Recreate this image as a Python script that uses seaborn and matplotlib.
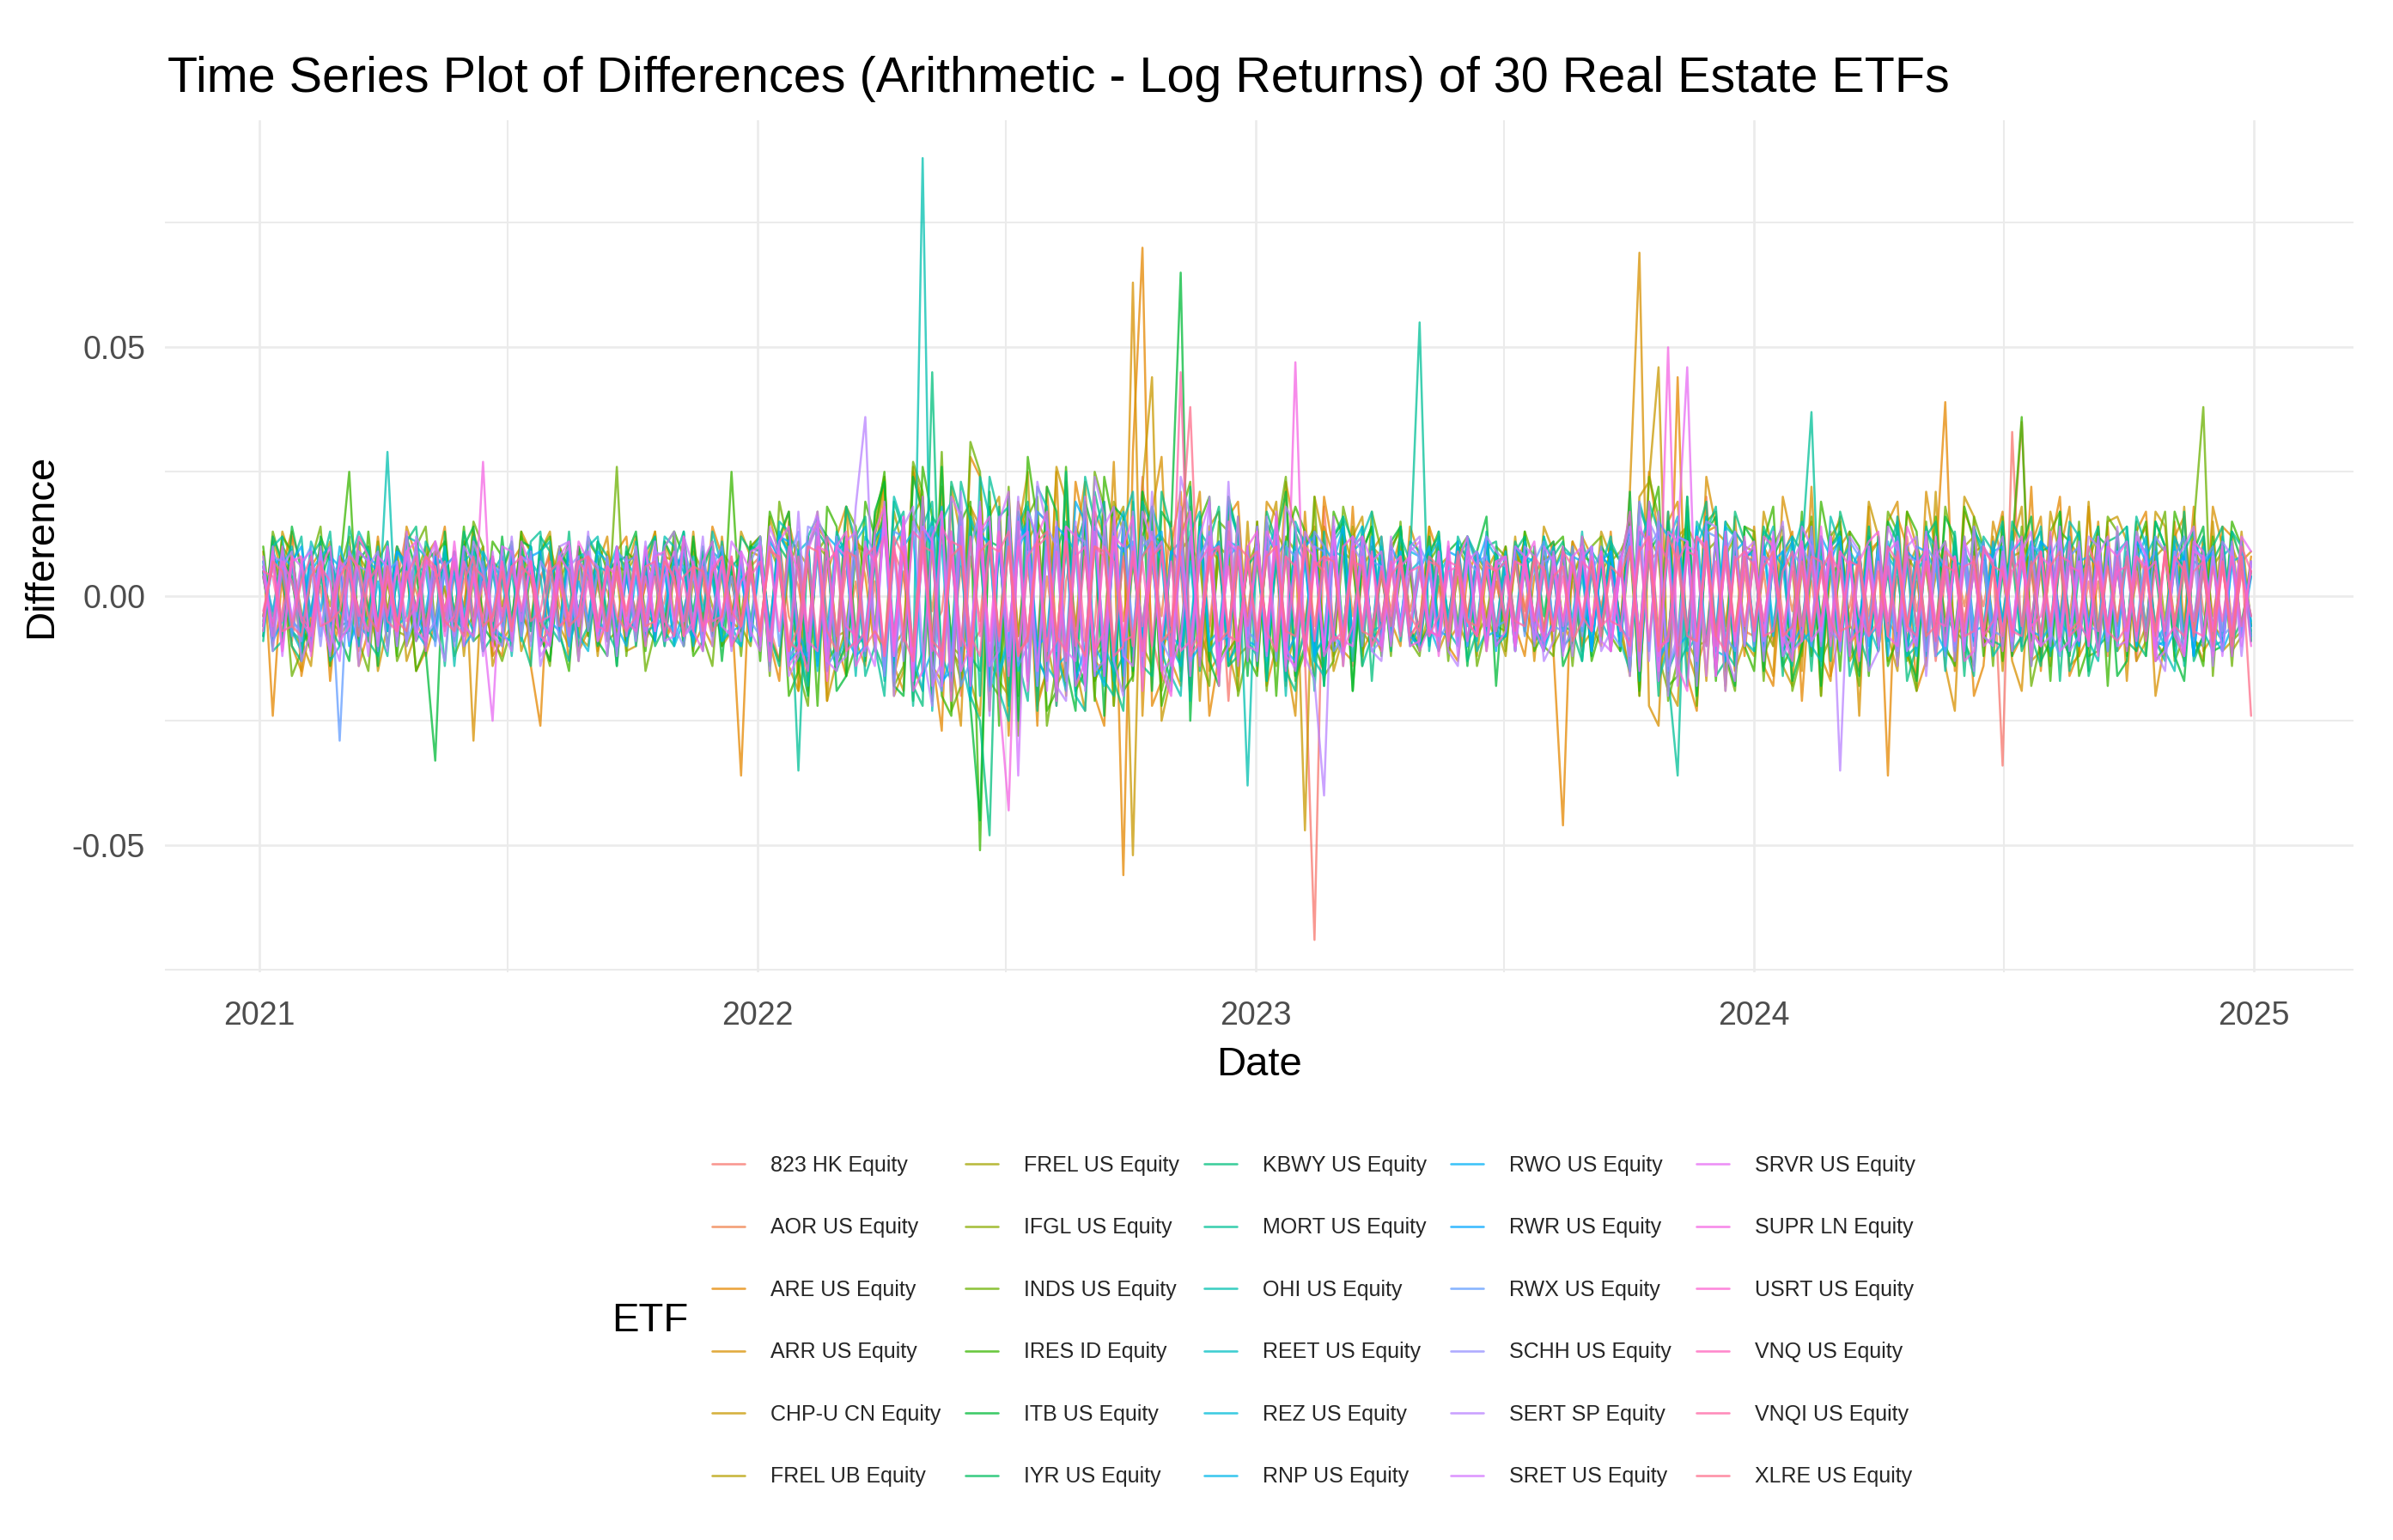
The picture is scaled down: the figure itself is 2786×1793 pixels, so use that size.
import numpy as np
import pandas as pd
import matplotlib
matplotlib.use("Agg")
import matplotlib.pyplot as plt
import seaborn as sns

# Differences (arithmetic - log return), in thousandths,
# one reading per week starting at START (one row per calendar year)
START = "2021-01-04"
STEP = "7D"

etf_names = [
    "823 HK Equity", "AOR US Equity", "ARE US Equity", "ARR US Equity", "CHP-U CN Equity",
    "FREL UB Equity", "FREL US Equity", "IFGL US Equity", "INDS US Equity", "IRES ID Equity",
    "ITB US Equity", "IYR US Equity", "KBWY US Equity", "MORT US Equity", "OHI US Equity",
    "REET US Equity", "REZ US Equity", "RNP US Equity", "RWO US Equity", "RWR US Equity",
    "RWX US Equity", "SCHH US Equity", "SERT SP Equity", "SRET US Equity", "SRVR US Equity",
    "SUPR LN Equity", "USRT US Equity", "VNQ US Equity", "VNQI US Equity", "XLRE US Equity",
]

hk823 = [5, -9, -3, 12, 7, -6, 2, -14, 8, 4, -11, -2, 9, -7, 3, 13, -5, -10, 6, 1, -8, 11, -4, 7, -12, 3, 6, -2, -9, 4, 8, -7, -3, 10, -5, 2, 7, -11, 4, -3, 8, -6, -1, 11, -9, 5, 3, -8, 6, -4, 9, -7,
         10, -6, -13, 7, 2, -9, 14, -4, -8, 5, 11, -12, 3, -16, 9, 4, -11, 18, -7, -3, 13, -20, 8, -5, 15, -10, 21, -14, 6, -9, 17, -22, 3, 12, -15, -6, 19, -11, 8, -13, 24, -8, -17, 10, 5, -19, 14, -6, 11, -21, 9, -4,
         13, -10, 6, -16, 9, -12, -69, 18, -7, 11, -14, 4, -9, 7, -3, 10, -8, -5, 9, 2, -11, 6, -4, 8, -7, 3, -6, 9, -2, -8, 5, 11, -7, 3, -10, 6, -3, 8, -5, 12, -16, 7, 9, -18, 14, -6, -11, 20, -9, 13, -15, 5,
         -9, 6, 11, -4, -12, 8, 3, -10, 13, -6, -2, 9, -7, 10, -5, -8, 12, -3, 7, -13, 4, 9, -11, 6, -2, 8, -34, 33, -10, 5, -12, 9, -4, 14, -8, 3, -11, 7, -6, 9, -13, 4, 8, -10, 6, -7, 12, -3, -9, 11, -5, 7, -8]
aor = [-4, 7, 2, -9, 5, -3, 8, -6, -1, 10, -5, 4, -7, 3, -8, 6, 1, -5, 9, -7, 4, -2, 8, -10, 5, -3, 7, -4, -6, 3, 9, -2, -7, 5, -8, 4, 1, -6, 8, -5, 2, 7, -9, 4, -3, 6, -1, -8, 5, 3, -7, 6,
       8, -6, 11, -4, -9, 7, -12, 5, 10, -8, 3, -11, 9, 13, -9, 5, -14, 10, -3, 16, -12, 6, -10, -7, 12, -15, 17, -8, 11, -16, 4, -10, 14, -6, 9, -13, -15, 11, -5, 10, -13, 6, -4, 15, -9, 11, -12, -7, 8, -10, 7, -5,
       11, -8, 14, -17, 6, -5, 9, -12, -7, 13, -4, 8, -6, 4, -7, 9, -3, 6, -9, 2, -5, 10, -4, 7, -8, 3, -6, 8, -3, 9, -7, 4, -9, 6, -11, 5, -2, 7, -6, 12, -9, 15, -7, 17, -12, 10, -14, -8, 11, -6, 9, -7,
       -8, 5, -10, 7, -3, 9, -12, 6, -7, 11, -5, 8, -4, 10, -7, 4, -9, 3, -8, 11, -6, 7, -2, 9, -10, 6, -5, 8, 35, -9, 5, -11, 7, -4, 10, -8, 3, -12, 6, -7, 3, 9, -6, 8, -10, 5, -7, 11, -4, 7, -9, 5, -6]
are = [9, -24, 6, 13, -16, -5, 11, -17, 3, 9, -14, -7, 12, -4, 10, 6, -15, -11, 5, 14, -8, -2, 13, 6, -9, -12, 7, 10, -14, -26, 10, 3, -13, 5, 8, -11, -4, 9, 12, -8, 3, 13, -9, -5, 11, -10, -6, 14, 8, -2, -36, 10,
       12, -9, -17, 15, 6, -19, 14, 11, -9, -16, 13, 4, -11, 22, -16, -8, 25, 18, -12, -27, 20, -15, 28, 24, -14, -10, -21, 19, 12, -26, 22, -9, -17, 23, 13, -20, -26, 16, -56, 29, 70, -22, -17, 10, 21, -18, 14, -24, -12, 16, 19, -9,
       15, -18, -10, 23, 13, -8, -16, 20, 9, -14, 18, -11, -7, -11, 5, 12, -9, -6, 14, 8, -10, -13, 4, 9, -11, 5, 10, -6, -12, 4, 8, -11, -46, 11, 7, -6, -10, 13, -9, 17, -20, 25, 12, -19, 44, -16, -23, 13, 14, -18, 10, -12,
       10, -14, -18, 8, 13, -21, 6, 11, -16, -7, 12, -15, 9, 11, -36, 16, 10, -19, -13, 7, 39, -15, 12, -20, -14, 9, 17, -12, -8, 22, -15, 10, 20, -16, -11, 18, -7, 14, -11, -8, 13, 17, -9, -12, 15, -6, 18, -11, -8, 14, 12, -7, 8]
arr = [-7, 12, 4, -10, -15, 6, 9, -13, -5, 8, 11, -3, -10, 9, -6, 14, 8, -12, -5, 10, -4, 11, -29, 7, -12, -9, -6, 13, 9, -8, -13, 10, 4, -11, -7, 6, 12, -9, 5, 12, -9, -4, 11, 5, -8, 13, -6, -10, 12, -5, -7, 9,
       8, -13, 11, 17, -19, -10, 15, -21, 12, 18, -9, -14, 7, 24, -14, -19, 25, 16, -21, 22, -12, -26, 18, 14, -23, 17, -28, 13, 18, -22, -15, 25, -20, 11, 23, -17, -12, 27, -19, 63, -24, 17, 28, -13, -18, 10, 21, -15, -12, 19, -16, 9,
       -13, 19, 16, -12, -24, 17, -10, 14, 8, -11, -13, 6, 9, 12, -5, -10, 14, 8, -7, 11, -9, -6, 12, 7, -4, -9, -8, 6, 11, -13, 7, 9, -5, -10, 12, 8, -6, 11, -7, 21, 69, -22, -26, 15, 19, -11, -17, 24, 14, -19, 16, -10,
       14, -9, -16, 20, 11, -15, 22, -12, -17, 10, 13, -24, 18, -11, 15, 19, -12, -16, 21, 9, -14, -23, 17, 12, -10, 15, 7, -13, -19, 10, 16, -14, 9, 18, -12, -8, 15, -11, 13, -17, 10, 14, -20, -9, 12, 16, -8, -13, 18, 10, -11, 7, 9]
chpu = [5, -10, 13, 7, -9, -14, 6, 11, -8, -5, 12, 9, -15, -6, 10, -13, -7, 8, 11, -4, 9, -12, 6, 10, -14, -7, 8, -11, -5, 9, 13, -6, -10, 8, 7, -12, 9, 4, -11, -10, 7, 13, -8, -5, 12, -9, 6, 11, -10, -7, 13, 8,
        -11, 16, 8, -14, -19, 10, 15, -21, -13, 18, 9, -12, 14, 23, -20, -15, 26, 19, -14, -17, 22, 12, -17, -24, 16, 20, -18, 13, 25, -21, -15, 26, 19, -14, -23, 17, 12, -22, 16, -52, 22, 44, -25, -16, 12, 18, -21, 14, 17, -11, -19, 15,
        -15, 11, 19, -18, 13, -47, 20, 11, -15, -8, 12, 16, -9, -6, 10, 13, -7, -9, 14, -11, -6, 10, 8, -12, 5, 9, -8, 12, -7, -10, 14, 9, -6, 11, -10, -7, 13, 8, -5, -16, 20, 23, 46, -18, -22, 14, 10, -17, 13, 11, -15, -9,
        -12, 17, 9, -14, -18, 11, 15, -20, 10, 16, -13, -9, 19, 12, -8, -15, 17, 10, -14, 21, -11, -13, 20, 16, -9, 12, -15, 10, 18, -13, -11, 17, 8, -14, -12, 19, -10, 15, 16, 11, -13, -9, 17, 14, -10, 18, -12, -8, 15, -11, -9, 13, -6]
frel_ub = [4, -7, 9, 3, -6, -10, 5, -2, 8, 6, -3, -9, 7, -4, 10, 5, -2, -8, 6, -3, 9, -7, -4, 5, 8, -2, 6, -4, -7, 9, -5, 3, 8, -8, -10, 5, -3, 8, 6, 9, -5, -4, 8, 7, -10, 3, -6, 8, 4, -10, -7, 5,
           -7, 10, 5, -12, 9, 6, -13, 11, -8, -7, 10, 9, -6, 15, -10, -7, 16, 12, -9, 17, -11, -14, 18, 10, -13, -8, 16, -8, 11, 15, -9, -19, 13, -7, 17, -12, -10, 14, 18, -13, 16, 8, -11, -6, 9, 12, -14, 10, 7, -11, -8, 9,
           -10, 8, 12, -15, -7, 10, 14, -9, -11, 13, 6, -8, 10, 8, -9, 4, 7, -11, -3, 6, 8, -5, -10, 7, 4, -6, -12, 9, 5, -7, 8, -10, -6, 4, 9, -7, 5, 8, -7, -15, 13, 11, -16, -8, 12, 14, -10, -9, 11, -7, 13, 10,
           -7, 10, 6, -8, -11, 5, 9, -12, 4, 7, -10, -6, 8, 11, -13, -9, 5, 10, -7, 4, 11, -8, -6, 9, 10, -5, -4, 8, 9, -6, -10, 7, -5, 11, 8, -4, -7, 10, -6, 9, -11, -6, 8, 10, -5, 7, -9, 12, -6, -8, 10, 5, -4]
frel_us = [-5, 8, 3, -7, -10, 4, 6, 9, -2, -6, 8, 5, -11, 3, -7, -8, 4, 10, -6, 2, -9, 5, 7, -3, -8, 4, -6, 9, 4, -7, 2, 10, -8, -5, 7, 3, -9, 6, 5, 8, -3, -6, 10, -4, -7, 9, 5, -2, -8, 7, -4, 10,
           9, -7, 12, 10, -6, -14, 10, 8, -13, -6, 11, 9, -7, -11, 17, 9, -14, -19, 11, 15, -10, -12, 16, 8, -13, -17, -20, 13, -9, 15, 11, -18, -14, 10, 16, -12, -7, 19, 13, 8, -10, -14, 12, 9, -15, 11, -7, -13, 10, 8, -12, -10,
           7, -11, 13, 9, -16, -6, 9, 10, -12, -8, 14, -7, -10, 5, -8, 7, 4, -9, -6, 11, -7, 4, -10, 8, 5, -6, -7, 10, 5, -8, -9, 6, -11, 4, 8, 7, -6, 9, -10, 10, -17, 12, 8, -14, 15, -9, -13, 13, -11, 8, 12, -7,
           8, -6, -10, 9, 5, -12, 7, -4, 9, 11, -6, -8, 12, -7, 10, -14, 8, 5, -11, 9, -4, -7, 10, 12, -6, -8, 5, -10, 9, -6, 11, 8, -7, -12, 10, -5, 8, -7, 9, -11, 6, -8, 10, -5, 12, 7, -9, -10, 6, 9, -11, -8, 5]
ifgl = [6, -4, 10, 7, -3, -11, 8, -5, -7, 9, 4, -6, 11, -3, 8, -10, -5, 7, 9, -4, 6, -8, 3, -11, 7, 5, 10, -6, 4, -9, -7, 5, 11, -8, 6, 3, -9, -7, 5, -8, 7, 4, -10, 6, 8, -11, 5, -7, 9, 3, -6, -10,
        10, -8, -13, 6, 11, -15, 9, 12, -14, -10, 8, -11, 7, 18, -13, -8, 16, 20, -11, 15, -9, -17, 14, 12, -19, 10, -13, 16, 10, -19, 15, -11, -18, 14, 9, -17, -12, 13, -16, 7, -9, 12, 11, -8, -14, 10, 7, -13, 9, -11, -8, 6,
        11, -7, -14, 12, 9, -10, 13, -8, -11, 9, 7, -12, 10, 6, -8, 10, 5, -9, -7, 4, -7, 10, 6, -8, -4, 7, -11, 8, 6, -9, -7, 5, 10, -8, 6, -11, -4, 7, 9, 13, -8, 16, -12, -19, 10, 14, -16, 9, 11, -15, -7, 10,
        9, -12, -7, 8, 11, -6, 10, -13, -8, 5, 12, -9, 7, -11, 9, 6, -13, 10, 5, -8, 11, -7, -9, 14, 6, -10, 7, -9, 11, 6, -8, -12, 10, -5, -9, 7, 13, -8, 6, -10, 8, -6, 11, 9, -7, -13, 10, 5, -8, 11, -9, -7, 7]
inds = [-8, 13, 6, -16, -11, 7, 14, -10, 5, 12, -9, -15, 7, 11, -13, -8, 10, 14, -6, 9, -12, -7, 15, 10, -8, -13, -6, 12, 9, -7, -14, 10, 5, -13, 11, 8, -7, 26, -12, 9, -15, -7, 10, 13, -6, 11, -8, -14, 9, 6, -12, 10,
        12, -16, 19, 10, -15, -22, 17, -13, -10, 18, 14, -11, 16, 24, -18, -14, 27, 21, -15, 29, -23, -18, 31, 25, -17, -20, 22, -28, 16, 20, -26, -14, 23, -19, -15, 25, 18, -22, 13, -17, 21, 14, -19, -11, 16, 23, -12, -18, 15, 13, -20, -11,
        15, -19, 12, 24, -17, -11, 20, -16, -13, 18, 10, -14, 17, 9, -12, 15, -9, -12, 7, 10, -13, 8, 11, -14, -6, 10, 8, -11, 13, 7, -10, -12, 9, -14, 7, 10, 12, -8, -11, 17, -20, 24, 16, -21, -13, 18, -22, 15, 17, -12, -19, 14,
        13, -17, 10, 14, -19, -11, 16, -20, 12, 15, -9, -18, 14, -10, 17, 13, -11, -19, 15, -12, 18, 9, -13, 16, 10, -14, 16, -11, 14, -18, -9, 13, 17, -10, 15, -12, -11, 16, 13, -9, 15, -12, 10, 17, -13, -8, 14, 38, -16, 10, -14, 11, -8]
ires = [10, -7, 12, 9, -6, -11, 8, -14, 5, 25, -10, 13, -6, 9, -12, 7, -15, -10, 8, 11, -5, 14, -9, -7, 11, 8, -10, 13, -6, 9, 12, -7, -15, 10, -8, 11, 5, -14, 9, 7, -11, 10, -6, 13, 8, -12, -9, 5, -10, 25, -7, 11,
        -13, 17, 11, -20, -15, 12, -22, 18, 14, -16, -10, 19, 12, 25, -17, 13, -21, 26, 16, -20, -24, 15, 19, -51, 21, -26, 16, -20, 28, 15, -23, -19, 26, -13, 17, -21, 24, 14, -19, -16, 12, 18, -22, -14, 17, -11, 15, 20, -13, -9, 16, -12,
        -16, 14, -20, 11, 18, 13, -10, -15, 17, 12, -19, 9, 14, -12, 9, 14, -7, -11, 8, 13, -10, 9, 12, -7, 11, -8, 10, -9, 13, -11, -7, 10, 12, -8, 9, -13, -6, 10, 7, 16, -19, 14, 22, -18, -16, 20, -11, 13, -17, 15, 12, -10,
        -15, 11, 18, -14, -10, 17, -12, 19, 9, -15, 13, 10, -16, 12, -14, -8, 17, 13, -11, 16, -10, -14, 18, 11, -12, 9, -13, 10, 36, -14, 8, -17, 13, 11, -16, -10, 14, -18, 11, -12, 9, 15, -13, -10, 17, 11, -8, -14, 12, -9, 15, 10, -9]
itb = [-6, 11, -9, 14, 5, -10, 12, 7, -8, -13, 7, 10, -14, 6, -9, 12, 5, -11, -33, 13, -7, 10, 14, -6, -9, 12, -5, 11, 10, -8, -13, 6, -7, 10, 4, -9, -12, 7, 8, 13, -6, -9, 11, 7, -10, 12, -5, 8, -13, 6, -7, 10,
       9, -14, 12, 17, -10, -20, 15, 12, -19, -16, 11, -13, 17, 23, -18, -20, 24, 17, -21, 26, -19, 15, -22, -45, 18, -14, 20, -25, 16, -13, 22, 17, -14, -23, 19, 12, -24, 18, 16, -15, 21, -19, 17, 14, 65, -25, 16, -13, -18, 20, 12, -16,
       14, -17, 11, 21, -16, -10, 13, -18, 12, 15, -19, 9, 14, -8, 11, 14, -7, -10, 12, -6, 9, 11, -14, 9, 16, -18, 7, -10, 12, -6, 9, 11, -14, -9, 8, -12, 10, 7, -11, 21, -15, 19, -12, 15, -9, 17, -20, 13, 16, -11, -18, 14,
       11, -15, 8, 12, -17, -10, 14, -18, 10, 13, -8, -16, 12, -9, 15, 11, -10, -17, 13, -8, 16, 12, -9, -14, 11, -10, 14, -12, 10, 16, -13, -9, 17, -11, 8, -15, 12, 10, -16, -13, 11, -8, 15, 10, -12, -17, 9, 14, -11, -10, 13, 7, -6]
iyr = [5, -8, 7, 4, -10, -6, 3, 9, -6, -5, 8, -3, 7, -10, 4, 7, -9, -5, 6, 8, -3, -6, 10, 4, -7, -9, 8, -5, 10, -7, -4, 9, 6, -3, 8, -10, 5, 7, -9, -4, 7, -10, -6, 8, 5, -3, 9, -7, -4, 6, 8, -5,
       8, -11, 10, 7, -13, -9, 12, -15, 9, 11, -7, -10, 11, 16, -10, 14, -18, -11, 16, 13, -9, 17, -12, -15, 11, 10, -14, 17, 11, -13, -16, 9, 15, -12, -18, 14, 10, -16, -12, 8, -6, 11, 9, -13, -7, 10, -12, 8, 10, -14, -8, 6,
       9, -12, 7, -10, 13, 8, -11, -9, 14, -7, 10, 12, -8, 6, -9, 5, 7, -10, -6, 8, -4, 7, -10, 6, -8, 9, -5, 8, -7, 10, -4, 9, -6, -7, 11, 5, -8, 10, -6, 11, -14, 9, 12, -15, -10, 13, -8, 16, -11, 9, -13, 7,
       10, -7, 8, -11, -6, 9, 12, -5, 7, -10, 9, -6, 11, -8, 5, -12, 10, -7, 8, -9, 6, -11, 9, 5, -8, -10, 4, 8, -11, -6, 9, 10, -7, -12, 5, 7, -10, -8, 6, -9, -11, 7, 5, -10, 8, 6, -12, -8, 7, 11, -9, -5, 4]
kbwy = [-9, 12, 7, -10, -13, 8, 11, -6, -10, 14, 5, -9, -12, 7, -8, 11, 14, -6, -9, 10, -7, 13, 6, -11, -8, 5, 11, -8, -14, 12, 9, -7, 13, -10, -6, 11, 8, -14, 10, -6, 9, 12, -7, -10, 13, -8, 5, 11, -9, -7, 12, 9,
        11, -8, -14, 12, 9, -17, 13, 10, -15, -9, 12, 16, -10, -15, 19, 13, -18, -22, 45, -19, 23, 16, -20, -25, -48, 18, -22, 14, 19, -23, 16, -20, 25, -15, -18, 21, 12, -17, -23, 19, -14, -16, 21, 13, -17, 22, -15, 11, 18, -14, -12, 10,
        -14, 17, 11, -15, -19, 10, 13, -18, 12, 16, -9, 14, -17, 8, -11, 14, -7, -10, 9, 12, -6, 9, -13, -7, 10, 11, -7, 9, 12, -6, -10, 8, 11, -7, -13, 9, 6, -11, 8, -15, 18, 12, -20, 17, -14, -10, 12, 19, -16, -13, 17, 11,
        -11, 14, 8, -16, 12, 9, -15, 11, -13, 17, 10, -8, -14, 12, -9, 13, -17, -10, 12, 15, -8, 11, -16, 13, 10, -9, -10, 15, 11, -8, -14, 12, -17, 9, 13, -16, -8, 11, 12, 14, -9, -12, 15, 10, -11, 17, -13, -8, 10, 14, -12, 9, -7]
mort = [7, -11, -9, 6, 12, -10, 5, 13, -8, -7, 11, 9, -6, -12, 10, 5, -8, 11, 7, -14, 9, -6, 12, 8, -5, -10, 9, -7, 11, 13, -6, -9, 10, -5, 12, 8, -7, -11, 8, -10, 6, 12, -9, 7, 13, -5, 10, -8, 11, -6, 7, -9,
        10, -13, 12, 9, -35, 12, 16, -9, -14, 18, 11, -16, -10, -20, 13, 17, -22, 14, 19, -12, -17, 23, 15, -20, 24, 16, 18, -13, -21, 17, 15, -22, 12, -19, 24, 15, -17, -20, 14, -12, 19, 14, -11, -17, 15, -21, 13, 10, -16, 18, 12, -9,
        -12, 15, 10, -17, 14, 11, -19, 13, -9, 16, 11, -14, -8, 10, -8, 12, 7, 55, -11, 8, -10, 12, 7, -9, 13, -10, -8, 11, 6, -9, 12, -7, 10, 8, -13, 6, -9, 11, 7, 14, -17, 19, 13, -16, -36, 20, -15, 13, 18, -11, -14, 10,
        -9, 13, 11, -10, -14, 9, 37, -14, 10, 12, -16, -8, 14, -11, 9, 15, -12, -10, 14, 7, -11, 13, -9, -16, 12, 9, 15, -11, -8, 10, 13, -12, 10, -15, -7, 9, 14, -11, 12, -8, 16, 10, -9, -13, 11, -14, 8, 12, -10, -9, 13, 10, -8]
ohi = [-8, 10, 12, -7, -9, 11, 6, -13, -10, 6, 13, 9, -7, 29, -10, 12, 11, -8, -6, 10, -14, 7, 9, -11, 5, 8, -12, 10, -7, 9, 11, -8, -13, 6, 10, 12, -5, 9, -8, 11, -7, -6, 12, 10, -9, 7, -11, 13, 6, -8, -10, 9,
       12, -9, 15, 13, -10, -18, 14, -11, 13, 8, -16, 12, 9, -17, 20, 14, -17, 88, -23, 15, 19, -12, -21, 24, 16, -19, -25, 13, -17, 22, 18, -16, 12, -20, -23, 14, 19, -17, 15, 21, -14, 18, 11, -16, -20, 13, 17, -10, -15, 19, 12, -38,
       14, -17, 12, -20, 15, 10, -13, -16, 11, 14, -9, 12, 17, -10, 9, -6, 11, 9, -8, 13, -7, -10, 12, 8, -10, 7, 8, -11, 7, -9, 12, 6, -10, -8, 13, -10, 6, 12, -9, -15, 19, 12, -17, -10, 13, -18, 15, 11, -16, 14, 12, -9,
       -11, 9, 14, -12, 8, 15, -10, -13, 16, 10, -12, 8, -14, 11, -9, 16, -11, -7, 13, 10, -15, 9, -11, 14, 8, -12, -9, 13, -10, 7, 14, -11, -8, 15, 12, -9, -13, 10, -11, 14, -10, 8, 12, -11, -15, 9, 13, -7, -11, 12, -8, 10, -9]
reet = [4, -7, 6, 10, -8, -3, 9, -6, 5, 8, -7, -4, 10, -7, 3, -9, 6, 5, -8, 10, -4, -7, 9, 3, -6, -8, 5, -9, 7, 4, -10, 6, -3, 8, 9, -5, -7, 10, 4, -6, 8, 5, -10, 7, -4, -9, 6, 3, -8, 7, 5, -9,
        9, -6, 11, -13, -8, 10, 14, -7, 12, 9, -10, -8, 7, -16, 10, 14, -17, 11, 15, -18, 9, -13, 16, 10, -19, -12, 11, -15, 18, 10, -14, -17, 12, 9, -16, 13, -10, -15, 13, -10, 8, 12, -14, 9, 11, -7, 13, -11, -8, 10, 9, -7,
        10, -13, 8, 11, -14, -7, 10, -12, 9, 8, -13, 10, -7, -6, 8, -9, 5, 7, -10, 4, 8, -6, 9, -11, -7, 5, 7, -10, 6, 8, -11, -5, 9, -7, 4, -10, 8, 6, -10, 13, -15, 10, -12, 9, 14, -11, -8, 16, -10, 12, -13, 8,
        7, -10, 9, 6, -11, -8, 5, 12, -8, 7, 10, -9, -6, -11, 8, 5, -12, 7, 9, -10, 6, -8, 11, -6, 7, -9, 10, -6, -8, 11, 7, -9, 12, -5, -10, 8, 6, -11, 9, -7, 11, 9, -6, -10, 8, -12, 7, 6, -9, 8, 10, -7, 5]
rez = [-6, 9, 4, -7, -11, 5, 8, 10, -3, -6, 9, 7, -5, 11, -6, -4, 10, 8, -7, 5, -9, 6, 4, -10, 7, 3, -8, 6, 10, -5, -7, 9, 4, -8, -11, 6, 5, -10, 7, 4, -9, 7, 6, -10, -5, 8, -3, 9, 7, -6, -10, 5,
       -10, 12, 7, -14, 9, 11, -15, 10, -13, -8, 11, 14, -8, 17, -8, 15, -12, -19, 14, 10, -17, 13, -20, 12, 11, -16, -9, 14, 12, -18, 15, -11, -19, 13, 10, -16, -14, 12, 17, 8, -11, 13, 9, -10, -14, 7, -12, 11, 8, -13, -10, 9,
       -11, 9, 14, -10, 8, 12, -13, 9, -7, -11, 10, 14, -9, 12, -7, 9, -10, -6, 8, 11, -5, 7, -9, -6, 11, 8, -6, 10, 8, -7, -11, 5, 9, 8, -7, 10, -5, -9, 8, -13, 10, 16, -12, -9, 14, -7, 10, 15, -11, -12, 13, 10,
       -8, 11, -6, 9, 12, -7, -10, 8, 5, -11, 9, 6, -13, 10, -7, 9, -11, 5, 8, -12, -10, 7, 6, -10, 9, 8, -5, 10, -8, 6, 11, -9, 7, 12, -6, -8, 10, -7, 9, 11, -8, 6, -10, -9, 12, 7, -5, 10, -8, -11, 7, 8, -5]
rnp = [5, -3, 8, 6, -4, -9, 7, -5, 10, 4, -6, -8, 3, -7, 9, 5, -7, -10, 4, 6, 8, -3, -7, 9, 5, -6, 8, -4, 6, -9, 5, 7, -10, -3, 8, -6, 4, 10, -7, -5, 9, -7, -3, 8, 6, -10, 5, 4, -9, -6, 7, -8,
       7, -10, 13, 8, -11, -12, 9, -15, 11, 8, -10, -7, 12, 14, -17, 10, 13, -16, -11, 18, -14, 9, -19, 13, 10, -15, -8, 11, 15, -17, 10, -14, -12, 9, 16, -13, -18, 11, -14, 10, -9, 12, 7, -13, 8, -10, 14, -9, -7, 11, 10, -9,
       8, -11, 12, -9, 10, 7, -12, -8, 13, -10, 9, 11, -7, -10, 7, -5, 9, 8, -6, -11, 7, -9, 12, 6, -8, -7, 9, -6, 11, -8, 5, 10, -7, -4, 9, -11, 8, 6, -10, 12, -10, 14, -13, 11, 16, -8, -9, 13, -7, 15, -11, 8,
       9, -7, 11, -10, -6, 8, 12, -7, 10, -11, 5, 9, -8, -6, 11, -10, 7, -12, 9, 5, 8, -11, 10, -7, -6, 9, 10, -8, 5, 11, -9, -6, 12, -10, 7, 8, -11, -5, 9, -10, 7, 12, -9, -6, 10, -8, 11, 7, -6, -9, 10, -8, 7]
rwo = [-4, 6, 8, -5, -7, 9, -3, 8, 6, -4, -10, 7, 5, 8, -4, 9, -7, -3, 8, 6, -5, 10, -6, 4, -7, -8, -9, 5, 6, -10, 4, 7, -8, 3, -5, 9, 7, -6, -10, 4, -8, 7, 5, -9, -3, 6, -10, 8, 4, -7, -6, 5,
       -9, 11, 8, -13, -11, 9, -14, 12, 10, -8, -12, 10, 7, 15, -13, 11, -16, 14, 10, -18, -12, 15, -11, 17, -14, 10, -13, 16, 9, -12, -17, 14, -11, 19, 15, -10, -14, 13, -16, 10, -9, 11, 13, -8, -10, 12, -7, 9, -11, 8, 10, -9,
       -10, 12, 9, -11, -13, 8, -12, 10, 7, 14, -9, 11, -8, 7, -6, 9, -8, 5, 10, -7, -8, 11, -6, 9, 5, -8, -8, 10, 6, -7, -9, 5, -11, 8, 7, 10, -4, 9, -6, -9, 13, -11, 15, 12, -10, -8, 14, -10, 12, -13, 9, 11,
       -7, 10, -8, 6, 11, -9, -7, 12, 8, -10, 6, 7, -10, 9, -12, 8, -6, 10, 9, -7, -11, 8, -10, 6, -8, 11, -6, 9, 11, -7, -8, 10, -5, 9, -10, 8, -7, 11, -9, 8, -10, 6, 9, -11, -7, 9, -12, 7, 9, -11, -6, 8, -6]
rwr = [6, -9, -5, 7, 10, -4, 8, -6, 7, -10, -4, 8, 6, -5, 9, 7, -3, -9, 8, -6, 5, -10, -7, 4, 8, -5, 10, -6, 8, 9, -5, -7, 9, -4, 6, -8, 7, -10, 4, -7, 5, -9, 6, 4, 10, -8, 7, -5, 9, -6, 4, -8,
       10, -8, 12, 11, -7, -13, 11, -9, 10, 7, -12, -10, 8, 15, -12, 10, -16, 13, 11, -17, -15, 12, -10, 14, -18, 11, -13, 9, 15, -10, -8, 14, 12, -17, -10, 13, -16, 11, 9, 11, -10, 8, -12, 9, 7, -13, -10, 8, 11, -10, 9, -7,
       11, -9, 13, -12, -8, 10, 12, -11, 9, -8, 10, -7, 12, -8, 10, 6, -8, -10, 5, -7, 9, 8, -10, 6, 12, -11, 6, -9, 8, 7, -10, -5, 9, -8, 6, -11, 7, 9, -8, 14, -9, 16, -13, -9, 12, 11, -15, 10, -8, 13, -10, 9,
       8, -11, 7, 9, -10, -6, 11, -8, 7, 12, -9, -5, 10, -8, 6, -11, 9, 7, -12, 8, 5, -10, 8, -9, 10, -6, 7, -10, 8, -6, 11, 9, -5, -8, 10, -7, 12, -8, 6, -9, 11, 7, -9, -10, 6, 8, -12, 6, 9, -11, 7, -8, 4]
rwx = [7, -5, 9, -8, 6, 10, -8, 6, -29, 10, -6, 8, -11, 5, 7, -9, -4, 8, -10, 6, 8, -5, -9, 7, -4, 10, -6, 8, 7, -4, -9, 6, -10, 7, 5, -8, -4, 9, 7, 8, -6, 10, -5, -7, 9, 4, -8, 6, 10, -9, 7, -5,
       -8, 11, -10, 8, 13, -12, 9, -14, -11, 10, 7, -12, 9, -15, 13, 12, -17, 10, 14, -16, 11, -18, -13, 12, 15, -10, 12, -14, -10, 17, 15, -11, 13, -9, -16, 14, 11, -13, 14, -7, 10, 12, -8, -9, 11, -10, 7, 13, -9, -8, 10, -7,
       -9, 11, -13, 10, 8, -12, 10, 9, -11, -8, 12, -10, 7, 6, -9, 8, -7, 10, 6, -9, -5, 8, -10, 7, 8, -6, -5, 9, -8, 7, 11, -6, -7, 10, -8, 5, 9, -7, -10, 12, -14, 10, 13, -15, -9, 11, -10, 13, 12, -8, -11, 9,
       -10, 8, 7, -11, 9, 6, -10, 12, -7, -9, 11, 8, -6, 10, -8, 12, -5, -9, 10, 7, -12, 8, -9, 6, 11, -7, -8, 11, -6, 10, 9, -7, -12, 8, 10, -6, -7, 11, -8, 9, -7, 10, -11, -6, 8, 12, -9, 7, 10, -8, -6, 11, -8]
schh = [-5, 8, 7, -4, -9, 6, -10, 7, 4, -9, 6, 5, -8, 10, -7, 4, 9, -8, -5, 6, -10, 7, 3, -9, 6, 5, -8, 6, -10, 7, 4, -9, 6, 8, -7, 5, -9, 10, -5, 7, -4, 9, 8, -6, -10, 5, -7, 8, -6, 4, -9, 7,
        11, -9, 8, -12, -10, 14, 13, -10, 12, -8, 9, -11, 10, -16, 9, -13, 15, 11, -14, -19, 12, -15, 10, 17, -14, -11, 16, -13, 9, -18, 14, 10, -17, 12, 11, -15, -13, 9, 15, -10, 12, 8, -9, -13, 10, -11, 8, 12, -14, 9, 10, -8,
        10, -8, 12, -14, 9, -11, 13, 10, -8, -12, 10, 7, -11, -9, 7, -6, 10, 8, -6, -9, 8, -10, 7, 5, -9, 7, 6, -9, 8, -10, 7, 8, -11, -6, 9, -7, 10, -8, 5, 12, -9, 15, 11, -14, -8, 10, -12, 14, -12, 9, 13, -10,
        9, -8, 10, -7, -12, 10, 6, -9, 11, -8, 7, -12, 9, -6, 10, -11, 8, 7, -11, 9, 6, -10, 12, -8, 7, -10, 6, -9, 11, -7, -10, 8, 12, -10, 7, -9, 8, -11, 9, -8, 10, -7, 12, 9, -6, -11, 8, -10, 9, -7, 11, -8, 6]
sert = [8, -11, 6, 9, -13, -7, 10, -12, 5, 8, -14, 6, 9, -11, 7, -10, 12, 8, -6, -13, 9, -7, 11, 5, -8, -10, 12, -8, 9, -14, -7, 10, 11, -6, 13, -9, 8, -12, 7, -9, 11, -7, 10, 13, -8, -6, 12, -10, 7, -11, 9, -8,
        12, -15, 9, -13, 17, -11, 16, 10, -14, -12, 18, 36, -11, 16, -20, 14, 18, -11, -22, 17, -15, 21, -13, 19, -24, 16, -12, 20, -17, 23, 14, -18, -21, 15, -19, 24, 16, -13, -20, 17, -15, 21, -13, -19, 24, 16, -12, 20, -17, 23, -14, 10,
        -13, 16, -11, 18, 14, -12, -17, -40, 14, -10, 12, 9, -11, -13, 9, -7, 10, 12, -8, 9, -11, -14, 10, -8, 12, 9, 7, -11, 10, 8, -13, -9, 6, -12, 8, 10, -11, -7, 9, -16, 19, -13, 17, -20, 12, 11, -18, 15, 14, -19, 13, -10,
        10, -13, 8, 15, -11, -9, 14, -10, 12, -35, 12, 9, -15, -11, 8, -14, 10, 12, -16, 8, 11, -13, 9, -15, 10, 7, 12, -8, 11, -14, 9, -10, 13, -11, -8, 12, 10, -9, 14, -10, 13, 8, -11, -15, 9, -12, 10, 7, -14, 11, 8, -12, 7]
sret = [-7, 10, -12, 8, 6, -11, 9, -7, -13, 9, 5, -12, 8, 6, -10, 13, -7, -9, 11, 5, -8, 10, 7, -12, 9, -7, -11, 8, 6, -12, -9, 7, 10, -13, 8, 6, -12, 9, -7, 10, -7, 11, -9, -8, 12, 6, -10, 9, -5, 11, 8, -7,
        -11, 14, 9, -16, -12, 10, 17, -13, -15, 11, 13, -9, -14, 19, -12, 16, -14, 20, -18, -13, 20, 16, -14, 18, -13, 15, 21, -36, 17, 12, -19, 15, -11, -13, 20, -16, 14, 18, -12, -14, 17, 11, -15, -13, 18, -16, 12, 19, -14, -10, 16, -13,
        14, -12, 17, -10, -15, 13, 9, -11, 16, -14, 10, 12, -8, -10, 12, -7, 9, 11, -7, -8, 10, -12, 7, 9, -11, 6, 8, -11, 6, -9, 10, 7, -12, 8, -6, 10, -9, -11, 7, 14, -9, 17, -15, 12, -18, 10, 9, -16, 13, -11, -17, 9,
        11, -9, 13, -12, -8, 14, 10, -7, 12, -11, 9, -13, 8, -10, 14, 9, -11, -8, 13, -12, 10, 7, -11, 14, -8, -10, 7, -11, 9, 13, -10, -8, 14, -9, 11, -10, 8, 12, -10, -9, 12, 8, -13, -11, 7, 10, 14, -9, 8, -12, 10, -10, 7]
srvr = [6, -8, 10, -5, 7, 9, -4, -11, 8, -6, 9, 7, -10, 5, -8, 9, -9, 6, 11, -4, 8, -10, 5, -6, -25, 10, 9, -5, 7, -10, -6, 8, 11, -4, 9, -7, 5, -10, 8, -6, 10, -7, 4, 9, -8, -5, 7, 11, -6, -8, 9, 5,
        -10, 12, 8, -14, -11, 9, 15, -13, 10, 8, -12, 11, -9, 16, -12, 10, -17, 14, 11, -18, 13, -15, -10, 17, -14, 12, -16, 11, 13, -15, 10, -17, 14, 12, -18, 13, -11, 16, -9, 10, -12, 8, 11, -14, -9, 12, -10, 8, -13, 11, 9, -10,
        -11, 13, 9, -12, -14, 10, 8, -11, 13, -9, -10, 12, 7, 9, -10, 6, 8, -11, -6, 9, -10, 7, 12, -8, 7, -10, -7, 10, 8, -6, -11, 9, -6, 8, 10, -7, 9, -11, 6, -12, 14, 10, -17, 13, 11, 46, -13, 11, -16, 10, -9, 8,
        10, -8, 12, -10, 7, 11, -9, -6, 11, -9, 8, -12, 10, -7, 9, 11, -6, -10, 12, -8, 7, -9, 11, 6, -10, -8, 9, -7, 10, -12, 8, 6, -11, -9, 7, -10, 12, -8, 6, -11, 8, 6, -10, 9, -7, -11, 9, 8, -12, 7, -6, 12, 9]
supr = [-6, 9, -11, 7, 8, -12, 5, 10, -9, -6, 12, 8, -7, 10, -7, 9, 11, -11, 6, -8, 11, -6, -8, 27, -10, 7, -9, 11, 6, -8, -10, 5, -8, 11, 7, -9, -5, 10, -8, 6, -10, 8, 9, -5, 12, -7, -11, 6, 8, -10, -6, 9,
        10, -13, 11, 14, -9, -15, 12, -17, 10, 13, -14, -10, 13, 18, -11, 16, -19, -15, 12, 17, -21, 14, -18, 13, 16, -20, -43, 15, -19, 12, 17, -21, 14, -18, -13, 20, -16, 12, 10, 16, -19, 13, -15, -20, 11, 17, -14, 12, -18, 15, -13, 10,
        13, -11, 16, -15, 47, -14, 10, -12, -8, 10, 12, -7, 9, -11, 6, 8, -10, -9, 7, -12, 11, -8, 9, 6, -10, 7, 8, -10, 7, 11, -9, -6, 10, -8, 12, -7, 9, -11, 6, 17, -15, 19, -12, 50, -14, -19, 12, 10, -16, 13, -10, 12,
        -9, 12, 10, -8, -13, 11, -7, 14, -10, 9, -12, 7, 11, 13, -8, -10, 14, 9, -7, 12, -10, 8, -13, -11, 9, 7, -11, 9, 12, -7, -10, 13, -8, 11, -9, 6, -12, 10, 8, 11, -9, 7, -13, 10, -8, -12, 11, 9, -7, 10, -12, 8, -10]
usrt = [4, -6, 7, 3, -5, -8, 6, -4, 7, 5, -3, -7, 8, -4, 6, -5, -2, 7, 5, -3, 7, -6, 4, -5, 8, -4, 6, -3, 7, -5, -4, 8, 5, -6, 3, -7, 6, 4, -5, -7, 4, -6, 8, 3, -5, 7, -6, -4, 7, -5, 3, 6,
        -6, 8, -7, 10, 5, -9, -11, 7, 9, -6, -8, 10, 7, 12, -8, 10, -13, 9, -11, 14, 10, -8, -12, 11, -9, 13, -7, 10, -8, 12, -11, 9, -13, 8, 10, -11, -7, 12, -9, 8, -6, 10, -8, 7, -11, -9, 7, 10, -8, 6, -9, 7,
        -7, 9, -11, 8, -6, 10, -9, 7, 8, -11, -6, 8, -7, 6, -4, 7, -6, 5, -7, -8, 5, 6, -9, 5, -6, 7, -5, 7, 6, -4, -8, 6, -5, 7, -4, 8, -6, 5, -7, 10, -8, 12, -10, -9, 7, 11, -9, 8, -10, 7, -8, 6,
        -6, 8, 5, -7, -9, 6, -8, 5, -7, 9, 6, -4, -8, 7, -5, 8, -7, 6, 9, -5, -6, 8, -7, 5, -8, 6, -7, 5, 8, -6, -4, 7, -9, 6, 5, -8, 6, -7, 5, 6, -8, 5, 7, -9, -6, 7, -5, 8, -7, 6, -8, 5, -4]
vnq = [-3, 6, -5, 8, -4, -7, 6, 3, -8, 5, -4, 7, -6, 4, -7, 5, -3, 8, 5, -6, -4, 7, -6, 3, -5, 7, -6, 4, 7, -5, -8, 3, -5, 7, 4, -6, -7, 5, -3, 7, -5, 4, -8, 6, 3, -7, 6, -5, -4, 8, -6, 4,
       7, -9, 6, -11, 8, -7, 10, 9, -8, 12, -10, -7, 8, -12, 11, -9, 13, 11, -10, -13, 8, -10, 12, -8, 11, -9, 10, -12, 8, 11, -13, -9, 11, -10, 8, -12, 10, 7, -9, -8, 7, -10, 9, -6, 8, -11, -7, 9, 10, -7, 8, -6,
       8, -6, 10, -9, 7, -11, 6, 8, -9, -7, 10, -6, 8, -5, 7, -8, 5, 6, -8, -4, 7, 6, -5, -8, 6, -7, 4, -7, 8, -5, 6, -7, 4, -8, 7, 5, -6, -4, 7, -8, 10, -9, 11, 7, -12, 9, 8, -10, 7, -11, 8, -6,
       7, -5, 8, -7, 6, -9, 7, -6, 8, 5, -9, -7, 5, -8, 6, -7, 9, -6, 7, -8, 5, -9, 6, 7, -8, -5, 6, -8, 7, -5, 9, -6, 8, 7, -5, -9, 7, -6, 8, -7, 5, -9, 6, -7, 8, 5, -7, -8, 6, -5, 8, -6, 5]
vnqi = [5, 4, -7, -6, 3, 8, -6, -5, 4, 7, -8, 3, 6, -5, -7, 4, 8, -6, 3, 7, -5, -8, 6, 4, -7, -5, 6, 8, -5, -3, 7, -6, -4, 7, 8, -5, 6, -4, -7, -4, 6, 7, -5, -8, 4, 6, -7, 5, 8, -3, -6, 7,
        -8, 10, 7, -9, -11, 8, -10, 12, 7, -11, -9, 8, 10, -12, 10, -8, -13, 10, 9, -14, 11, 10, -8, -12, 10, 9, 13, -11, -9, 10, 12, -8, -11, 13, -9, 10, 8, -12, -10, 9, -11, 8, 10, -12, 45, -12, -9, 7, 10, -8, -9, 7,
        9, -7, -11, 8, 6, -10, 7, 5, -8, -9, 7, 6, -10, -6, 4, 7, -8, -5, 7, 6, -9, 7, -5, -8, 6, 5, 7, -5, -6, 8, 5, -7, 9, 6, -4, -7, 8, -5, -6, -10, 9, 12, -11, -8, 10, -7, 12, 9, -8, -11, 7, 9,
        6, -8, -7, 5, 9, -6, 8, 7, -5, -9, 7, 6, -8, -5, 10, 7, -6, -8, 7, -9, 6, 5, -8, -7, 10, 6, 5, -7, -8, 6, 9, -5, 7, -8, -6, 10, 5, -7, -9, -6, 8, 5, -7, 9, -6, -8, 5, 7, -10, 6, -8, 10, 5]
xlre = [-4, 7, 5, -6, -8, 4, 7, -5, -3, 8, 6, -4, -7, 6, -5, -7, 4, 8, 6, -5, -7, 3, 8, -6, -4, 5, -7, 6, 4, -8, 5, 7, -6, -4, 8, 5, -7, 6, -4, 8, -6, -5, 7, 4, -8, 6, 5, -7, -4, 8, -6, 5,
        -7, 9, 8, -11, -6, 10, 9, -7, -11, 9, 8, -10, -7, -10, 12, 8, -10, 13, -9, -11, 8, 10, -12, 9, 11, -8, 10, -12, -8, 11, 13, -9, 11, -8, -12, 10, 9, -11, 8, -10, 8, 11, -9, -7, 10, 38, -10, 8, -9, -7, 10, 8,
        -9, 8, 10, -7, -8, 11, -6, 8, 7, -10, 9, -7, -8, 5, -6, 8, -4, -7, 8, 6, -7, 9, -5, -6, 7, 5, -6, 7, -5, 8, -7, 4, 6, -9, -5, 7, -8, 6, 4, 10, -11, 9, -10, 12, 7, -8, -9, 11, -8, 10, -7, 8,
        -7, 6, 9, -8, -6, 7, -8, 5, 9, -7, -6, 8, -7, 5, -8, 9, -6, 7, -8, -6, 9, 7, -5, 8, -7, 6, -8, 9, -6, 7, -8, 6, 9, -7, -5, 8, -7, 6, -5, 8, -7, 6, -8, 9, -6, 7, -8, 5, -9, 7, -10, 8, -24]

series_values = [hk823, aor, are, arr, chpu, frel_ub, frel_us, ifgl, inds, ires,
                 itb, iyr, kbwy, mort, ohi, reet, rez, rnp, rwo, rwr,
                 rwx, schh, sert, sret, srvr, supr, usrt, vnq, vnqi, xlre]

year_ticks = ["2021-01-01", "2022-01-01", "2023-01-01", "2024-01-01", "2025-01-01"]
year_labels = ["2021", "2022", "2023", "2024", "2025"]
mid_year_ticks = ["2021-07-02", "2022-07-02", "2023-07-02", "2024-07-02"]
y_ticks = [-0.05, 0.0, 0.05]
y_labels = ["-0.05", "0.00", "0.05"]
y_minor = [-0.075, -0.025, 0.025, 0.075]


def hcl_hex(h, c=100.0, l=65.0):
    # ggplot2 hue palette colour (polar CIELUV -> sRGB)
    hr = np.deg2rad(h)
    u, v = c * np.cos(hr), c * np.sin(hr)
    xn, yn, zn = 95.047, 100.0, 108.883
    un = 4 * xn / (xn + 15 * yn + 3 * zn)
    vn = 9 * yn / (xn + 15 * yn + 3 * zn)
    Y = yn * ((l + 16) / 116) ** 3
    up, vp = u / (13 * l) + un, v / (13 * l) + vn
    X = 9 * Y * up / (4 * vp)
    Z = Y * (12 - 3 * up - 20 * vp) / (4 * vp)
    m = np.array([[3.240479, -1.537150, -0.498535],
                  [-0.969256, 1.875992, 0.041556],
                  [0.055648, -0.204043, 1.057311]])
    rgb = m @ (np.array([X, Y, Z]) / 100)
    rgb = np.where(rgb <= 0.0031308, 12.92 * rgb, 1.055 * np.abs(rgb) ** (1 / 2.4) - 0.055)
    return matplotlib.colors.to_hex(np.clip(rgb, 0, 1))


n = len(etf_names)
palette = [hcl_hex(15 + 360 / n * i) for i in range(n)]

frames = []
for name, vals in zip(etf_names, series_values):
    frames.append(pd.DataFrame({
        "Date": pd.date_range(START, periods=len(vals), freq=STEP),
        "Difference": np.array(vals) / 1000.0,
        "ETF": name,
    }))
df = pd.concat(frames, ignore_index=True)

sns.set_theme(style="white")
plt.rcParams["font.family"] = ["Liberation Sans", "DejaVu Sans"]

W, H = 2786, 1793
fig = plt.figure(figsize=(W / 100, H / 100), dpi=100)
fig.patch.set_facecolor("white")
p_left, p_right, p_top, p_bottom = 192, 2740, 140, 1132
ax = fig.add_axes([p_left / W, 1 - p_bottom / H, (p_right - p_left) / W, (p_bottom - p_top) / H])

sns.lineplot(data=df, x="Date", y="Difference", hue="ETF", hue_order=etf_names,
             palette=palette, linewidth=1.8, alpha=0.75, estimator=None,
             errorbar=None, ax=ax)

ax.set_xlim(pd.Timestamp("2020-10-24"), pd.Timestamp("2025-03-15"))
ax.set_ylim(-0.0755, 0.0956)
ax.set_xticks(pd.to_datetime(year_ticks))
ax.set_xticklabels(year_labels)
ax.set_xticks(pd.to_datetime(mid_year_ticks), minor=True)
ax.set_yticks(y_ticks)
ax.set_yticklabels(y_labels)
ax.set_yticks(y_minor, minor=True)
ax.grid(which="major", color="#EBEBEB", linewidth=1.9)
ax.grid(which="minor", color="#EBEBEB", linewidth=1.5)
ax.set_axisbelow(True)
for s in ax.spines.values():
    s.set_visible(False)
ax.tick_params(axis="both", which="both", length=0, labelsize=27, labelcolor="#4D4D4D")
ax.tick_params(axis="x", pad=23.5)
ax.tick_params(axis="y", pad=16.5)

ax.set_xlabel("Date", fontsize=34, color="black")
ax.xaxis.set_label_coords(0.5, -(1252 - p_bottom) / (p_bottom - p_top))
ax.xaxis.label.set_verticalalignment("baseline")
ax.set_ylabel("Difference", fontsize=34, color="black")
ax.yaxis.set_label_coords((48 - p_left) / (p_right - p_left), 0.5)
ax.yaxis.label.set_verticalalignment("center")

fig.text(195 / W, 1 - 107 / H,
         "Time Series Plot of Differences (Arithmetic - Log Returns) of 30 Real Estate ETFs",
         fontsize=41.4, color="black", va="baseline", ha="left")

leg = ax.get_legend()
handles = leg.legend_handles
labels = [t.get_text() for t in leg.get_texts()]
leg.remove()
new_leg = fig.legend(handles, labels, loc="center left",
                     bbox_to_anchor=(829 / W, 1 - 1538 / H), ncol=5, frameon=False,
                     fontsize=18, handlelength=1.52, handletextpad=1.2,
                     columnspacing=1.15, labelspacing=1.94, borderpad=0, borderaxespad=0)
for line in new_leg.get_lines():
    line.set_linewidth(1.9)
    line.set_alpha(0.75)
fig.text(712 / W, 1 - 1538 / H, "ETF", fontsize=34, color="black", va="center", ha="left")

fig.savefig("out.png", dpi=100, facecolor="white")
